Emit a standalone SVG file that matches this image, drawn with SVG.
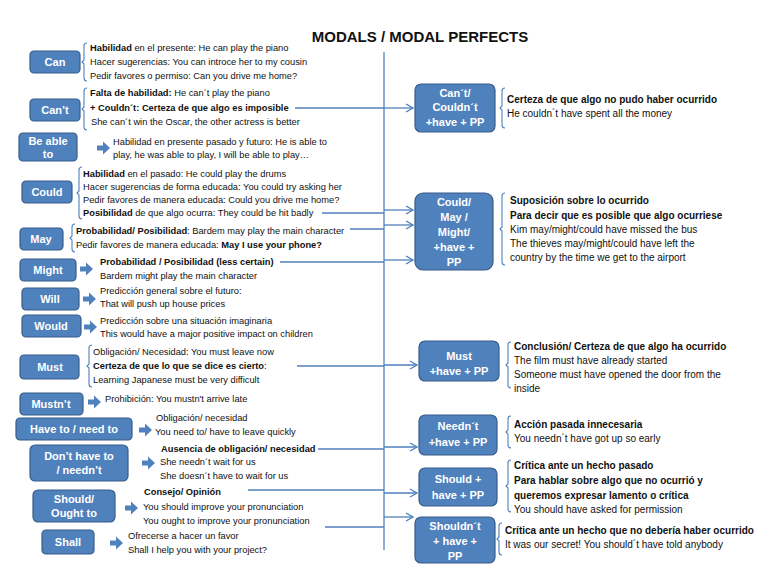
<svg xmlns="http://www.w3.org/2000/svg" width="768" height="576" viewBox="0 0 768 576">
<style>
.b{fill:#4f81bd;stroke:#385d8a;stroke-width:1.2}
.bt{font-family:"Liberation Sans",Arial,sans-serif;font-size:11px;font-weight:bold;fill:#fff;text-anchor:middle}
.t{font-family:"Liberation Sans",Arial,sans-serif;font-size:9.3px;fill:#111}
.tr{font-family:"Liberation Sans",Arial,sans-serif;font-size:10px;fill:#111}
.k{font-weight:bold}
.l{stroke:#4f81bd;stroke-width:1.3;fill:none}
.br{stroke:#4f81bd;stroke-width:1.1;fill:none}
.ba{fill:#4f81bd}
</style>
<defs>
<marker id="ah" markerWidth="10" markerHeight="10" refX="8" refY="5" orient="auto" markerUnits="userSpaceOnUse"><path d="M1,1 L8,5 L1,9" fill="none" stroke="#4f81bd" stroke-width="1.4"/></marker>
<path id="bar" d="M0,-2.5 h6 v-4 l7,6.5 l-7,6.5 v-4 h-6z"/>
</defs>
<text x="420" y="42" font-family="Liberation Sans,Arial,sans-serif" font-size="15" font-weight="bold" text-anchor="middle" fill="#111">MODALS / MODAL PERFECTS</text>

<g id="connectors">
<path class="l" d="M384,52 V550"/>
<path class="l" d="M295,108 H384"/>
<path class="l" d="M322,213 H384"/>
<path class="l" d="M350,229 H384"/>
<path class="l" d="M280,262 H384"/>
<path class="l" d="M297,366 H384"/>
<path class="l" d="M318,449 H384"/>
<path class="l" d="M248,490 H384"/>
<path class="l" d="M325,527 H384"/>
<path class="l" marker-end="url(#ah)" d="M384,108 H413"/>
<path class="l" marker-end="url(#ah)" d="M384,210 H413"/>
<path class="l" marker-end="url(#ah)" d="M384,225 H413"/>
<path class="l" marker-end="url(#ah)" d="M384,260 H413"/>
<path class="l" marker-end="url(#ah)" d="M384,365 H417"/>
<path class="l" marker-end="url(#ah)" d="M384,447 H417"/>
<path class="l" marker-end="url(#ah)" d="M384,493 H417"/>
<path class="l" marker-end="url(#ah)" d="M384,517 H413"/>
</g>

<g id="can"><rect class="b" x="30" y="51" width="50" height="22" rx="4"/><text class="bt" x="55" y="66">Can</text>
<path class="br" d="M87,43 q-3,0 -3,3 v14 l-2,2 l2,2 v14 q0,3 3,3"/>
<text class="t" x="90" y="51"><tspan class="k">Habilidad</tspan> en el presente: He can play the piano</text>
<text class="t" x="90" y="65">Hacer sugerencias: You can introce her to my cousin</text>
<text class="t" x="90" y="79">Pedir favores o permiso: Can you drive me home?</text></g>

<g id="cant"><rect class="b" x="30" y="99" width="50" height="22" rx="4"/><text class="bt" x="55" y="114">Can’t</text>
<path class="br" d="M87,88 q-3,0 -3,3 v16 l-2,2 l2,2 v16 q0,3 3,3"/>
<text class="t" x="90" y="96"><tspan class="k">Falta de habilidad:</tspan> He can´t play the piano</text>
<text class="t k" x="90" y="111">+ Couldn´t: Certeza de que algo es imposible</text>
<text class="t" x="91" y="125">She can´t win the Oscar, the other actress is better</text></g>

<g id="beable"><rect class="b" x="19" y="133" width="58" height="28" rx="4"/><text class="bt" x="48" y="145">Be able</text><text class="bt" x="48" y="158">to</text>
<use href="#bar" class="ba" x="97" y="148"/>
<text class="t" x="113" y="145">Habilidad en presente pasado y futuro: He is able to</text>
<text class="t" x="113" y="158">play, he was able to play, I will be able to play…</text></g>

<g id="could"><rect class="b" x="22" y="181" width="50" height="22" rx="4"/><text class="bt" x="47" y="196">Could</text>
<path class="br" d="M82,167 q-3,0 -3,3 v21 l-2,2 l2,2 v21 q0,3 3,3"/>
<text class="t" x="83" y="177"><tspan class="k">Habilidad</tspan> en el pasado: He could play the drums</text>
<text class="t" x="83" y="190">Hacer sugerencias de forma educada: You could try asking her</text>
<text class="t" x="83" y="203">Pedir favores de manera educada: Could you drive me home?</text>
<text class="t" x="83" y="216"><tspan class="k">Posibilidad</tspan> de que algo ocurra: They could  be hit badly</text></g>

<g id="may"><rect class="b" x="20" y="228" width="43" height="22" rx="4"/><text class="bt" x="41" y="243">May</text>
<path class="br" d="M75,224 q-3,0 -3,3 v9 l-2,2 l2,2 v9 q0,3 3,3"/>
<text class="t" x="76" y="234"><tspan class="k">Probabilidad/ Posibilidad</tspan>: Bardem may play the main character</text>
<text class="t" x="76" y="248">Pedir favores de manera educada: <tspan class="k">May I use your phone?</tspan></text></g>

<g id="might"><rect class="b" x="20" y="259" width="56" height="22" rx="4"/><text class="bt" x="48" y="274">Might</text>
<use href="#bar" class="ba" x="80" y="269"/>
<text class="t k" x="100" y="265">Probabilidad / Posibilidad (less certain)</text>
<text class="t" x="100" y="279">Bardem might play the main character</text></g>

<g id="will"><rect class="b" x="22" y="288" width="57" height="22" rx="4"/><text class="bt" x="50" y="303">Will</text>
<use href="#bar" class="ba" x="83" y="299"/>
<text class="t" x="100" y="294">Predicción general sobre el futuro:</text>
<text class="t" x="100" y="307">That will push up house prices</text></g>

<g id="would"><rect class="b" x="22" y="315" width="59" height="22" rx="4"/><text class="bt" x="51" y="330">Would</text>
<use href="#bar" class="ba" x="84" y="327"/>
<text class="t" x="100" y="324">Predicción sobre una situación imaginaria</text>
<text class="t" x="100" y="337">This would have a major positive impact on children</text></g>

<g id="must"><rect class="b" x="20" y="355" width="59" height="24" rx="4"/><text class="bt" x="50" y="371">Must</text>
<path class="br" d="M92,345 q-3,0 -3,3 v16 l-2,2 l2,2 v16 q0,3 3,3"/>
<text class="t" x="93" y="355">Obligación/ Necesidad: You must leave now</text>
<text class="t" x="93" y="369"><tspan class="k">Certeza de que lo que se dice es cierto</tspan>:</text>
<text class="t" x="93" y="383">Learning Japanese must be very difficult</text></g>

<g id="mustnt"><rect class="b" x="20" y="393" width="63" height="22" rx="4"/><text class="bt" x="51" y="408">Mustn’t</text>
<use href="#bar" class="ba" x="88" y="402"/>
<text class="t" x="105" y="402">Prohibición: You mustn't arrive late</text></g>

<g id="haveto"><rect class="b" x="16" y="418" width="116" height="22" rx="4"/><text class="bt" x="74" y="433">Have to / need to</text>
<use href="#bar" class="ba" x="139" y="430"/>
<text class="t" x="156" y="421">Obligación/ necesidad</text>
<text class="t" x="155" y="435">You need to/ have to leave quickly</text></g>

<g id="donthaveto"><rect class="b" x="30" y="445" width="98" height="36" rx="5"/><text class="bt" x="79" y="460">Don’t have to</text><text class="bt" x="79" y="474">/ needn’t</text>
<use href="#bar" class="ba" x="142" y="463"/>
<text class="t k" x="161" y="452">Ausencia de obligación/ necesidad</text>
<text class="t" x="160" y="465">She needn´t wait for us</text>
<text class="t" x="160" y="479">She doesn´t have to wait for us</text></g>

<g id="should"><rect class="b" x="33" y="490" width="82" height="32" rx="5"/><text class="bt" x="74" y="503">Should/</text><text class="bt" x="74" y="517">Ought to</text>
<use href="#bar" class="ba" x="125" y="508"/>
<text class="t k" x="144" y="495">Consejo/ Opinión</text>
<text class="t" x="143" y="510">You should improve your pronunciation</text>
<text class="t" x="143" y="524">You ought to improve your pronunciation</text></g>

<g id="shall"><rect class="b" x="42" y="530" width="52" height="24" rx="4"/><text class="bt" x="68" y="546">Shall</text>
<use href="#bar" class="ba" x="110" y="543"/>
<text class="t" x="128" y="539">Ofrecerse a hacer un favor</text>
<text class="t" x="128" y="553">Shall I help you with your project?</text></g>

<g id="cant-pp"><rect class="b" x="415" y="84" width="80" height="48" rx="6"/>
<text class="bt" x="455" y="97">Can´t/</text><text class="bt" x="455" y="111">Couldn´t</text><text class="bt" x="455" y="126">+have + PP</text>
<path class="br" d="M505,88 q-3,0 -3,3 v15 l-2,2 l2,2 v15 q0,3 3,3"/>
<text class="tr k" x="507" y="103">Certeza de que algo no pudo haber ocurrido</text>
<text class="tr" x="507" y="117">He couldn´t have spent all the money</text></g>

<g id="could-pp"><rect class="b" x="415" y="193" width="78" height="77" rx="8"/>
<text class="bt" x="454" y="206">Could/</text><text class="bt" x="454" y="221">May /</text><text class="bt" x="454" y="236">Might/</text><text class="bt" x="454" y="251">+have +</text><text class="bt" x="454" y="266">PP</text>
<path class="br" d="M505,193 q-3,0 -3,3 v31 l-2,2 l2,2 v31 q0,3 3,3"/>
<text class="tr k" x="510" y="204">Suposición sobre lo ocurrido</text>
<text class="tr k" x="510" y="219">Para decir que es posible que algo ocurriese</text>
<text class="tr" x="510" y="233">Kim may/might/could have missed the bus</text>
<text class="tr" x="510" y="247">The thieves may/might/could have left the</text>
<text class="tr" x="510" y="261">country by the time we get to the airport</text></g>

<g id="must-pp"><rect class="b" x="419" y="341" width="80" height="40" rx="6"/>
<text class="bt" x="459" y="360">Must</text><text class="bt" x="459" y="375">+have + PP</text>
<path class="br" d="M511,342 q-3,0 -3,3 v18 l-2,2 l2,2 v18 q0,3 3,3"/>
<text class="tr k" x="514" y="350">Conclusión/ Certeza de que algo ha ocurrido</text>
<text class="tr" x="514" y="364">The film must have already started</text>
<text class="tr" x="514" y="378">Someone must have opened the door from the</text>
<text class="tr" x="514" y="392">inside</text></g>

<g id="neednt-pp"><rect class="b" x="419" y="415" width="78" height="40" rx="6"/>
<text class="bt" x="458" y="430">Needn´t</text><text class="bt" x="458" y="446">+have + PP</text>
<path class="br" d="M511,416 q-3,0 -3,3 v11 l-2,2 l2,2 v11 q0,3 3,3"/>
<text class="tr k" x="514" y="428">Acción pasada innecesaria</text>
<text class="tr" x="514" y="442">You needn´t have got up so early</text></g>

<g id="should-pp"><rect class="b" x="419" y="468" width="78" height="38" rx="6"/>
<text class="bt" x="458" y="483">Should +</text><text class="bt" x="458" y="499">have + PP</text>
<path class="br" d="M511,460 q-3,0 -3,3 v21 l-2,2 l2,2 v21 q0,3 3,3"/>
<text class="tr k" x="514" y="469">Crítica ante un hecho pasado</text>
<text class="tr k" x="514" y="484">Para hablar sobre algo que no ocurrió y</text>
<text class="tr k" x="514" y="499">queremos expresar lamento o crítica</text>
<text class="tr" x="514" y="513">You should have asked for permission</text></g>

<g id="shouldnt-pp"><rect class="b" x="415" y="517" width="80" height="46" rx="6"/>
<text class="bt" x="455" y="530">Shouldn´t</text><text class="bt" x="455" y="545">+ have +</text><text class="bt" x="455" y="560">PP</text>
<path class="br" d="M502,523 q-3,0 -3,3 v11 l-2,2 l2,2 v11 q0,3 3,3"/>
<text class="tr k" x="505" y="534">Crítica ante un hecho que no debería haber ocurrido</text>
<text class="tr" x="505" y="548">It was our secret! You should´t have told anybody</text></g>
</svg>
